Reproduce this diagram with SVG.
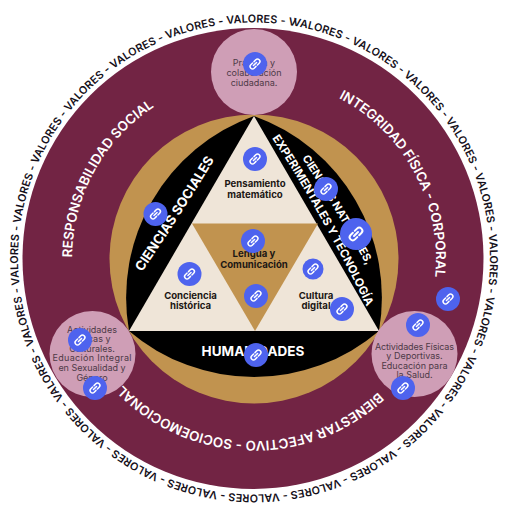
<svg xmlns="http://www.w3.org/2000/svg" xmlns:xlink="http://www.w3.org/1999/xlink" width="512" height="510" viewBox="0 0 512 510">
<style>
text{font-family:"Inter","Liberation Sans",sans-serif}
.ring{font-size:10.8px;font-weight:600;fill:#15101a;letter-spacing:.14px}
.arc{font-size:13.400px;font-weight:600;fill:#fff}
.sub{font-weight:700;fill:#fff}
.bold{font-size:9.600px;font-weight:700;fill:#1c1714;text-anchor:middle}
.pink{font-size:9px;font-weight:400;fill:#4d3a47;text-anchor:middle}
.badge{fill:#4e63ee}
.ch{fill:none;stroke:#fff;stroke-width:1.5;stroke-linecap:round}
</style>
<defs>
<path id="pRing" d="M254 22.500A236 236 0 1 1 253.990 22.500Z"/>
<path id="pArc" d="M254 77A182 182 0 1 1 253.990 77Z"/>
<path id="pSoc" d="M142 272Q178 220 220 150"/>
<path id="pNat" d="M302 158Q338 212 376 282"/>
<path id="pExp" d="M272 138Q325 218 372 318"/>
<g id="link" transform="rotate(45)"><path class="ch" d="M-2.400 -1V-3.500A2.400 2.400 0 0 1 2.400 -3.500V-1M-2.400 1V3.500A2.400 2.400 0 0 0 2.400 3.500V1M0 -2.200V2.200"/></g>
</defs>
<rect width="512" height="510" fill="#fff"/>
<g id="ring-valores" transform="rotate(9.4 254 258.500)">
<text class="ring"><textPath href="#pRing">VALORES - VALORES - VALORES - VALORES - VALORES - VALORES - VALORES - VALORES - VALORES - VALORES - VALORES - VALORES - VALORES - VALORES - VALORES - VALORES - VALORES - VALORES - VALORES - VALORES - VALORES - VALORES - VALORES - VALORES - VALORES -</textPath></text>
</g>
<g id="maroon-disc"><circle cx="253" cy="258.500" r="230.500" fill="#722444"/></g>
<g id="gold-disc"><circle cx="254" cy="259" r="144.500" fill="#c1934f"/></g>
<g id="reuleaux"><path d="M254 116A193 193 0 0 1 379 331A193 193 0 0 1 129 331A193 193 0 0 1 254 116Z" fill="#000"/></g>
<g id="triangle"><path d="M254 116L379 331H129Z" fill="#efe5d8"/></g>
<g id="inner-triangle"><path d="M192 223.500H318L255 331Z" fill="#c1934f"/></g>
<g id="arc-responsabilidad"><text class="arc" transform="rotate(-89.5 254 259)"><textPath href="#pArc">RESPONSABILIDAD SOCIAL</textPath></text></g>
<g id="arc-integridad"><text class="arc" transform="rotate(27.8 254 259)"><textPath href="#pArc">INTEGRIDAD FÍSICA - CORPORAL</textPath></text></g>
<g id="arc-bienestar"><text class="arc" transform="rotate(137 254 259)"><textPath href="#pArc">BIENESTAR AFECTIVO - SOCIOEMOCIONAL</textPath></text></g>
<g id="node-sociales"><text class="sub" font-size="13.300"><textPath href="#pSoc">CIENCIAS SOCIALES</textPath></text></g>
<g id="node-naturales">
<text class="sub" font-size="11"><textPath href="#pNat">CIENCIAS NATURALES,</textPath></text>
<text class="sub" font-size="11.500"><textPath href="#pExp">EXPERIMENTALES Y TECNOLOGÍA</textPath></text>
</g>
<g id="node-humanidades"><text class="sub" font-size="13.500" x="253" y="356" text-anchor="middle">HUMANIDADES</text></g>
<g id="node-pensamiento"><text class="bold" x="255" y="186.500">Pensamiento</text><text class="bold" x="255" y="197.500">matemático</text></g>
<g id="node-lengua"><text class="bold" x="254" y="256.500">Lengua y</text><text class="bold" x="254" y="267.500">Comunicación</text></g>
<g id="node-conciencia"><text class="bold" x="190.500" y="298.500">Conciencia</text><text class="bold" x="190.500" y="309">histórica</text></g>
<g id="node-cultura"><text class="bold" x="316" y="298.500">Cultura</text><text class="bold" x="316" y="309">digital</text></g>
<g id="node-practica"><circle cx="254" cy="72" r="43" fill="#cf9eb6"/>
<text class="pink" x="254" y="66">Práctica y</text><text class="pink" x="254" y="75.500">colaboración</text><text class="pink" x="254" y="85.500">ciudadana.</text></g>
<g id="node-actividades-artisticas"><circle cx="92.500" cy="354" r="43" fill="#cf9eb6"/>
<text class="pink" x="92" y="332.500">Actividades</text><text class="pink" x="92" y="342">Físicas y</text><text class="pink" x="92" y="351.500">Culturales.</text><text class="pink" x="92" y="361" textLength="79">Eduación Integral</text><text class="pink" x="92" y="370.500">en Sexualidad y</text><text class="pink" x="92" y="380.500">Género</text></g>
<g id="node-actividades-fisicas"><circle cx="414.500" cy="354" r="43" fill="#cf9eb6"/>
<text class="pink" x="414.500" y="349.500" textLength="79">Actividades Físicas</text><text class="pink" x="414.500" y="359">y Deportivas.</text><text class="pink" x="414.500" y="368.500">Educación para</text><text class="pink" x="414.500" y="378">la Salud.</text></g>
<g id="badges">
<g transform="translate(255 64)"><circle r="12" class="badge"/><use href="#link"/></g>
<g transform="translate(255 159)"><circle r="12" class="badge"/><use href="#link"/></g>
<g transform="translate(253 241)"><circle r="12" class="badge"/><use href="#link"/></g>
<g transform="translate(155.500 214)"><circle r="12" class="badge"/><use href="#link"/></g>
<g transform="translate(326 189)"><circle r="12" class="badge"/><use href="#link"/></g>
<g transform="translate(356 234)"><circle r="16" class="badge"/><use href="#link" transform="scale(1.300)"/></g>
<g transform="translate(448 299)"><circle r="12" class="badge"/><use href="#link"/></g>
<g transform="translate(189.500 274)"><circle r="12" class="badge"/><use href="#link"/></g>
<g transform="translate(313 269)"><circle r="10.500" class="badge"/><use href="#link"/></g>
<g transform="translate(342 309)"><circle r="12" class="badge"/><use href="#link"/></g>
<g transform="translate(256 296)"><circle r="12" class="badge"/><use href="#link"/></g>
<g transform="translate(256 355)"><circle r="12" class="badge"/><use href="#link"/></g>
<g transform="translate(80 340)"><circle r="12" class="badge"/><use href="#link"/></g>
<g transform="translate(95 388)"><circle r="12" class="badge"/><use href="#link"/></g>
<g transform="translate(418 325)"><circle r="12" class="badge"/><use href="#link"/></g>
<g transform="translate(403 388)"><circle r="12" class="badge"/><use href="#link"/></g>
</g>
</svg>
